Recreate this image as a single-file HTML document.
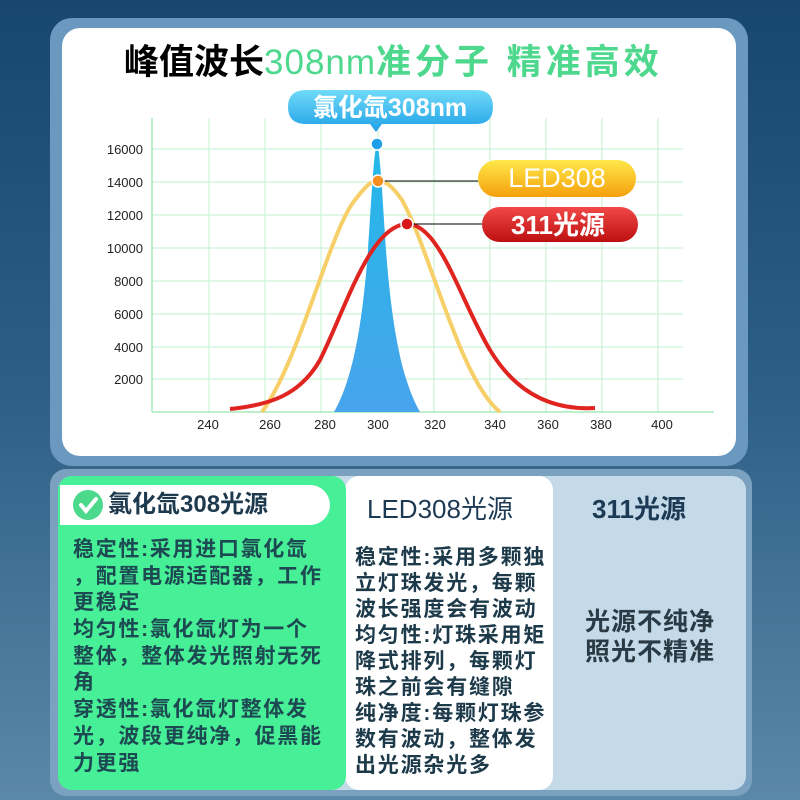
<!DOCTYPE html>
<html><head><meta charset="utf-8"><style>
*{margin:0;padding:0;box-sizing:border-box}
body{width:800px;height:800px;overflow:hidden;background:linear-gradient(180deg,#17466e 0%,#2e5f86 50%,#5b88a8 100%);font-family:"Liberation Sans","Noto Sans CJK SC",sans-serif;position:relative}
.abs{position:absolute}
.t{white-space:nowrap}
.body1 div,.body2 div{height:26.7px;line-height:26.7px;white-space:nowrap}
</style></head><body>
<div class="abs" style="left:50px;top:18px;width:698px;height:448px;background:#6a98bf;border-radius:22px"></div>
<div class="abs" style="left:62px;top:28px;width:674px;height:428px;background:#fff;border-radius:18px"></div>
<div class="abs t" style="left:124px;top:40px;font-size:35px;font-weight:bold;line-height:46px"><span style="color:#000">峰值波长</span><span style="color:#4dd88e;font-weight:normal;letter-spacing:1px">308nm</span><span style="color:#4dd88e;letter-spacing:4px">准分子 精准高效</span></div>

<svg class="abs" style="left:0;top:0" width="800" height="470">
<defs>
<linearGradient id="bl" x1="0" y1="0" x2="0" y2="1"><stop offset="0" stop-color="#22b8e8"/><stop offset="1" stop-color="#48a4ec"/></linearGradient>
<linearGradient id="lb" x1="0" y1="0" x2="0" y2="1"><stop offset="0" stop-color="#6fdaf8"/><stop offset="1" stop-color="#1fa0e6"/></linearGradient>
<linearGradient id="yl" x1="0" y1="0" x2="0" y2="1"><stop offset="0" stop-color="#ffe84a"/><stop offset="1" stop-color="#f5a00c"/></linearGradient>
<linearGradient id="rd" x1="0" y1="0" x2="0" y2="1"><stop offset="0" stop-color="#f24848"/><stop offset="1" stop-color="#bd1010"/></linearGradient>
</defs>
<g stroke="#cdf2d6" stroke-width="1.2">
<line x1="152" y1="149" x2="683" y2="149"/><line x1="152" y1="182" x2="683" y2="182"/><line x1="152" y1="215" x2="683" y2="215"/><line x1="152" y1="248" x2="683" y2="248"/><line x1="152" y1="281" x2="683" y2="281"/><line x1="152" y1="314" x2="683" y2="314"/><line x1="152" y1="347" x2="683" y2="347"/><line x1="152" y1="379" x2="683" y2="379"/>
<line x1="209" y1="118" x2="209" y2="412"/><line x1="265" y1="118" x2="265" y2="412"/><line x1="321" y1="118" x2="321" y2="412"/><line x1="378" y1="118" x2="378" y2="412"/><line x1="434" y1="118" x2="434" y2="412"/><line x1="490" y1="118" x2="490" y2="412"/><line x1="546" y1="118" x2="546" y2="412"/><line x1="602" y1="118" x2="602" y2="412"/><line x1="658" y1="118" x2="658" y2="412"/>
</g>
<line x1="152" y1="118" x2="152" y2="412" stroke="#a8e8b8" stroke-width="1.5"/>
<line x1="152" y1="412" x2="714" y2="412" stroke="#a8e8b8" stroke-width="1.5"/>
<g font-size="13" fill="#222" text-anchor="end">
<text x="143" y="154">16000</text><text x="143" y="187">14000</text><text x="143" y="220">12000</text><text x="143" y="253">10000</text><text x="143" y="286">8000</text><text x="143" y="319">6000</text><text x="143" y="352">4000</text><text x="143" y="384">2000</text>
</g>
<g font-size="13" fill="#222" text-anchor="middle">
<text x="208" y="429">240</text><text x="270" y="429">260</text><text x="325" y="429">280</text><text x="378" y="429">300</text><text x="435" y="429">320</text><text x="495" y="429">340</text><text x="548" y="429">360</text><text x="601" y="429">380</text><text x="662" y="429">400</text>
</g>
<path d="M334 412 C352 380 362 330 368 250 C372 190 374 150 377 144 C380 150 382 190 386 250 C392 330 402 380 420 412 Z" fill="url(#bl)"/>
<path d="M262 412 C300 360 330 230 355 200 C368 183 372 181 378 181 C384 181 390 183 402 200 C430 250 460 380 500 412" fill="none" stroke="#f7cf68" stroke-width="4"/>
<path d="M230 409 C270 405 300 395 320 360 C345 310 370 225 407 224 C440 224 460 300 490 350 C520 400 560 410 595 408" fill="none" stroke="#e02420" stroke-width="4"/>
<line x1="378" y1="181" x2="478" y2="181" stroke="#000" stroke-width="1"/>
<line x1="407" y1="224" x2="482" y2="224" stroke="#000" stroke-width="1"/>
<circle cx="377" cy="144" r="6" fill="#1ea0e8" stroke="#fff" stroke-width="1.5"/>
<circle cx="378" cy="181" r="6" fill="#f59020" stroke="#fff" stroke-width="1.5"/>
<circle cx="407" cy="224" r="6" fill="#d81818" stroke="#fff" stroke-width="1.5"/>
<path d="M306 90 H476 Q493 90 493 107 Q493 124 476 124 H382 L376 132 L370 124 H306 Q288 124 288 107 Q288 90 306 90 Z" fill="url(#lb)"/>
<text x="390" y="116" font-size="25" font-weight="bold" fill="#fff" text-anchor="middle">氯化氙308nm</text>
<rect x="478" y="160" width="158" height="37" rx="18.5" fill="url(#yl)"/>
<text x="557" y="187" font-size="27" fill="#fff" text-anchor="middle">LED308</text>
<rect x="482" y="207" width="156" height="35" rx="17.5" fill="url(#rd)"/>
<text x="558" y="234" font-size="26" fill="#fff" font-weight="bold" text-anchor="middle">311光源</text>
</svg>

<div class="abs" style="left:50px;top:469px;width:702px;height:327px;background:#7aa2c0;border-radius:16px"></div>
<div class="abs" style="left:58px;top:476px;width:688px;height:314px;background:#c4dae9;border-radius:14px"></div>
<div class="abs" style="left:345px;top:476px;width:208px;height:314px;background:#fff;border-radius:14px"></div>
<div class="abs" style="left:58px;top:476px;width:288px;height:314px;background:#47ef97;border-radius:14px"></div>
<div class="abs" style="left:60px;top:485px;width:270px;height:40px;background:#fff;border-radius:0 20px 20px 0"></div>
<div class="abs" style="left:73px;top:490px;width:30px;height:30px;border-radius:50%;background:#4cd98c"></div>
<svg class="abs" style="left:73px;top:490px" width="30" height="30"><path d="M8 15 L13 21 L23 9" fill="none" stroke="#fff" stroke-width="4" stroke-linecap="round"/></svg>
<div class="abs t" style="left:108px;top:489px;font-size:24px;line-height:32px;color:#1e3a4e;font-weight:bold">氯化氙308光源</div>
<div class="abs t" style="left:367px;top:492px;font-size:26px;line-height:34px;color:#1d3a55">LED308光源</div>
<div class="abs t" style="left:592px;top:492px;font-size:26px;line-height:34px;color:#1d3a55;font-weight:bold">311光源</div>
<div class="abs body1" style="left:73px;top:537px;font-size:21px;letter-spacing:1.7px;color:#1d4a52;font-weight:bold">
<div>稳定性:采用进口氯化氙</div><div>，配置电源适配器，工作</div><div>更稳定</div><div>均匀性:氯化氙灯为一个</div><div>整体，整体发光照射无死</div><div>角</div><div>穿透性:氯化氙灯整体发</div><div>光，波段更纯净，促黑能</div><div>力更强</div>
</div>
<div class="abs body2" style="left:355px;top:545px;font-size:21px;letter-spacing:1.8px;color:#1d3a4a;font-weight:bold">
<div style="height:26px;line-height:26px">稳定性:采用多颗独</div><div style="height:26px;line-height:26px">立灯珠发光，每颗</div><div style="height:26px;line-height:26px">波长强度会有波动</div><div style="height:26px;line-height:26px">均匀性:灯珠采用矩</div><div style="height:26px;line-height:26px">降式排列，每颗灯</div><div style="height:26px;line-height:26px">珠之前会有缝隙</div><div style="height:26px;line-height:26px">纯净度:每颗灯珠参</div><div style="height:26px;line-height:26px">数有波动，整体发</div><div style="height:26px;line-height:26px">出光源杂光多</div>
</div>
<div class="abs t" style="left:585px;top:607px;font-size:25px;line-height:30px;color:#2a3a44;letter-spacing:1px;font-weight:bold">光源不纯净<br>照光不精准</div>
</body></html>
